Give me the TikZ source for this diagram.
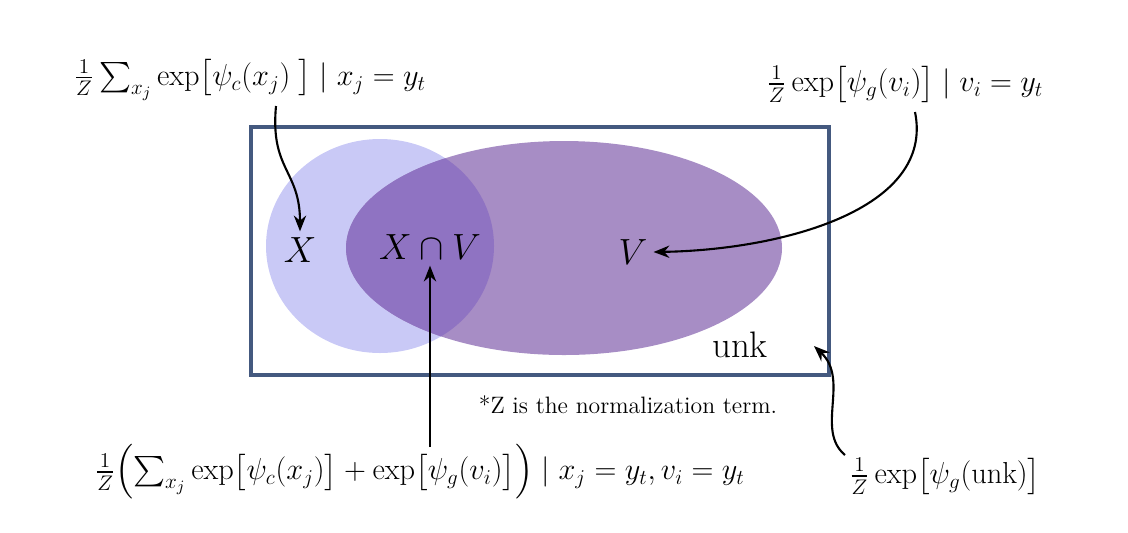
\documentclass[tikz,border=0pt]{standalone}
\usepackage{amsmath}
\usetikzlibrary{arrows.meta}
\definecolor{boxc}{HTML}{44597F}
\definecolor{lav}{HTML}{C9C9F6}
\definecolor{vcol}{HTML}{A78DC5}
\definecolor{ovl}{HTML}{8F73C2}
\begin{document}
\begin{tikzpicture}[x=0.02cm,y=-0.02cm,
  lbl/.style={font=\fontsize{21}{25}\selectfont},
  frm/.style={font=\fontsize{17.5}{21}\selectfont,inner sep=1pt},
  arr/.style={-{Stealth[length=9pt,width=7pt]},line width=1.2pt}]
\useasboundingbox (0,0) rectangle (1128,532);
\fill[lav] (380,246) ellipse [x radius=114, y radius=107];
\fill[vcol] (564,248) ellipse [x radius=218, y radius=107];
\begin{scope}
\clip (380,246) ellipse [x radius=114, y radius=107];
\fill[ovl] (564,248) ellipse [x radius=218, y radius=107];
\end{scope}
\draw[boxc,line width=2.6pt] (251,127) rectangle (829,375);
\node[lbl] (X) at (300,250) {$X$};
\node[lbl] (XV) at (430,247) {$X\cap V$};
\node[lbl] (V) at (633,252) {$V$};
\node[lbl] (unk) at (740,345) {unk};
\node[font=\fontsize{13.5}{16}\selectfont,inner sep=1pt] (note) at (628,405) {*Z is the normalization term.};
\node[frm] (f1) at (250,80) {$\frac{1}{Z}\sum_{x_j}\exp\bigl[\psi_c(x_j)\;\bigr]\mid x_j=y_t$};
\node[frm] (f2) at (905,84) {$\frac{1}{Z}\exp\bigl[\psi_g(v_i)\bigr]\mid v_i=y_t$};
\node[frm] (f3) at (420,472) {$\frac{1}{Z}\Bigl(\sum_{x_j}\exp\bigl[\psi_c(x_j)\bigr]+\exp\bigl[\psi_g(v_i)\bigr]\Bigr)\mid x_j=y_t,v_i=y_t$};
\node[frm] (f4) at (945,476) {$\frac{1}{Z}\exp\bigl[\psi_g(\mathrm{unk})\bigr]$};
\coordinate (a1) at (276,106);
\coordinate (a2) at (915,112);
\coordinate (a3) at (430,447);
\coordinate (a4) at (845,455);
\draw[arr] (a1) .. controls (270,170) and (300,170) .. (X.north);
\draw[arr] (a2) .. controls (935,210) and (780,250) .. (V.east);
\draw[arr] (a3) -- (XV.south);
\draw[arr] (a4) .. controls (815,430) and (850,380) .. (814,346);
\end{tikzpicture}
\end{document}
